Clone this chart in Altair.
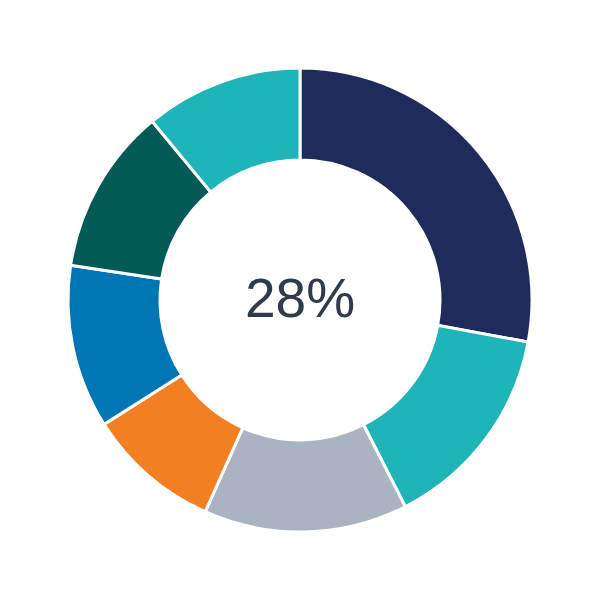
import altair as alt
import pandas as pd

categories = ["A", "B", "C", "D", "E", "F", "G"]
values = [27.9, 14.6, 14.2, 9.3, 11.4, 11.6, 11.0]
colors = ["#1e2b5b", "#1fb4b7", "#a9b3c1", "#f27f22", "#0077b4", "#035a57", "#1fb4b7"]
center_label = "28%"

df = pd.DataFrame({"cat": categories, "value": values, "order": list(range(len(categories)))})

arcs = alt.Chart(df).mark_arc(
    innerRadius=140, outerRadius=232, stroke="white", strokeWidth=3
).encode(
    theta=alt.Theta("value:Q", stack=True),
    order=alt.Order("order:Q"),
    color=alt.Color("cat:N", scale=alt.Scale(domain=categories, range=colors), legend=None),
)

text = alt.Chart(pd.DataFrame({"t": [center_label]})).mark_text(
    fontSize=55, font="Liberation Sans", color="#2f3a4a", baseline="middle", align="center"
).encode(text="t:N")

chart = alt.layer(arcs, text).properties(
    width=584, height=584, padding=0
).configure_view(stroke=None)

chart.save("out.html", embed_options={"renderer": "svg", "actions": False})
